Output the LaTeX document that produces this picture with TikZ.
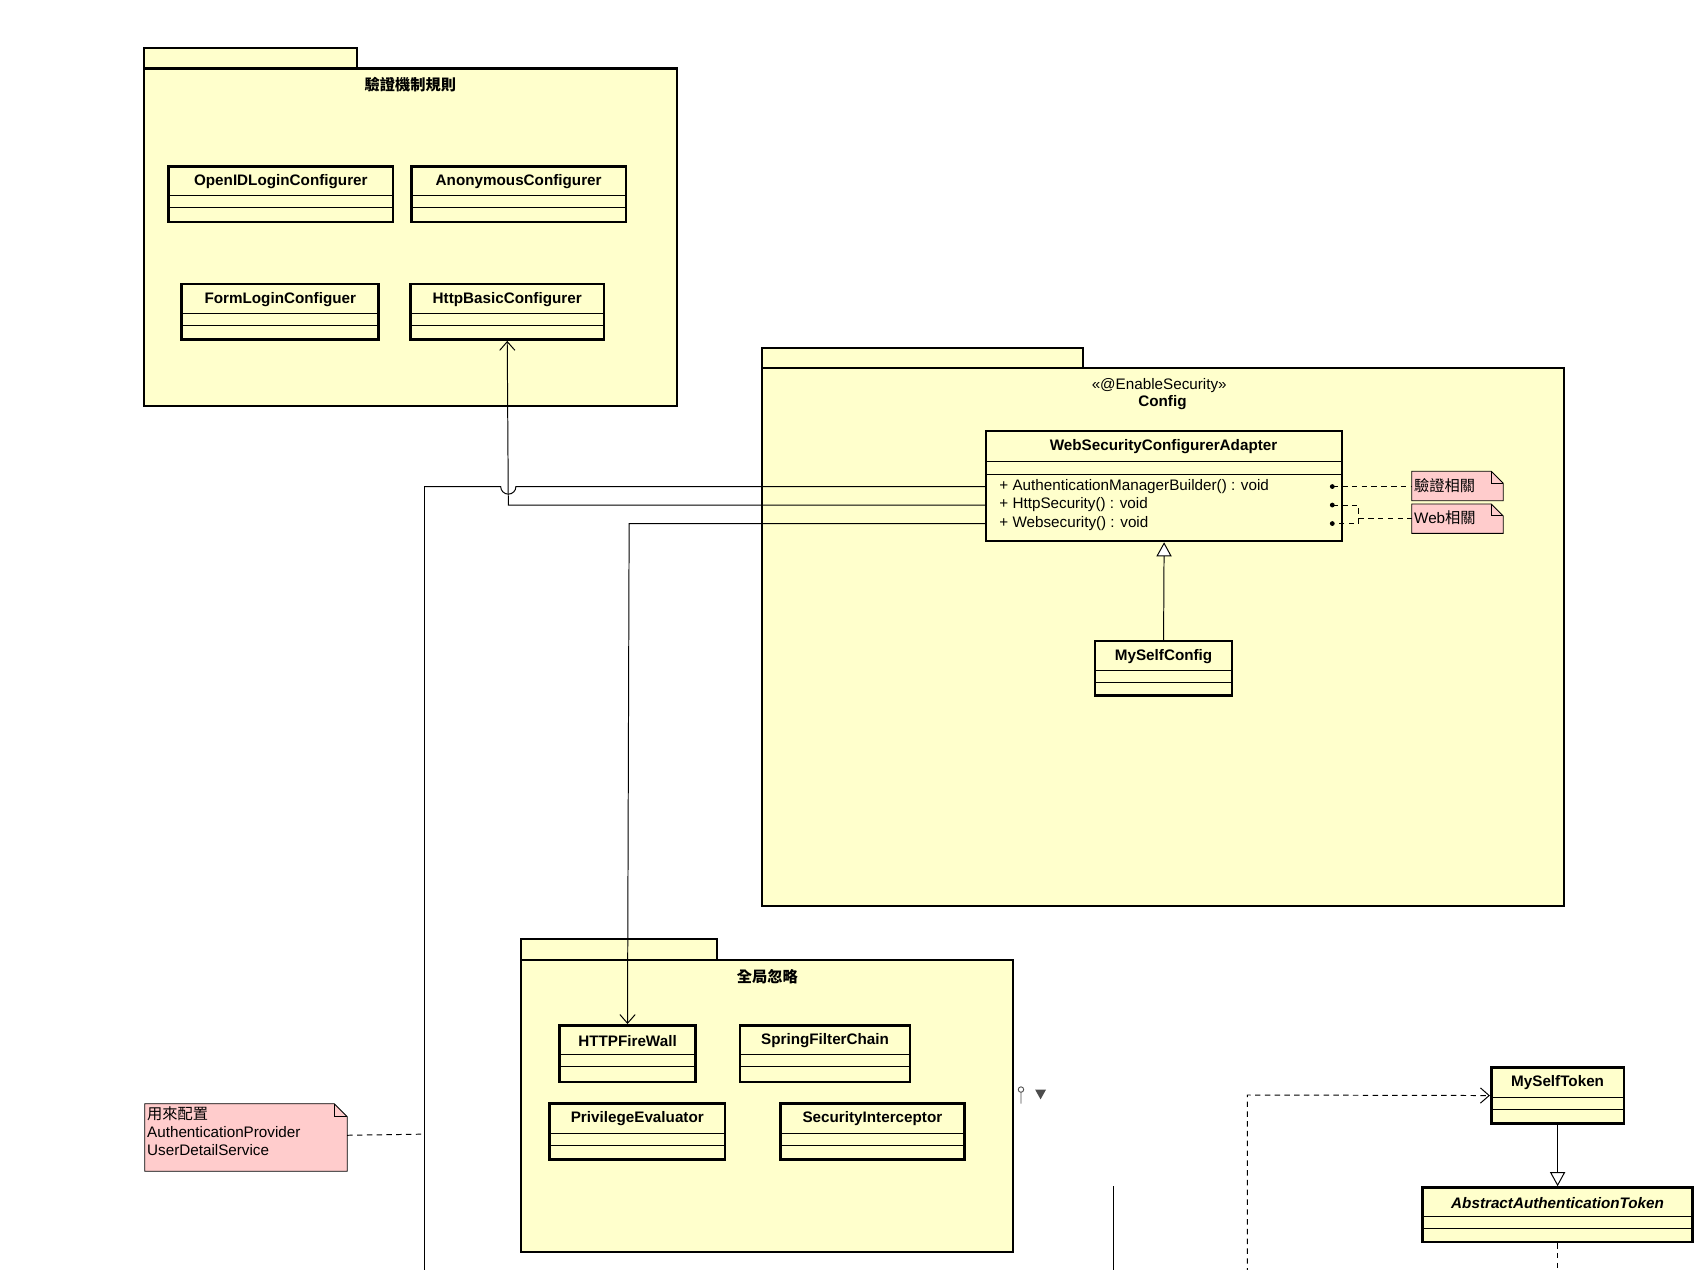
\documentclass[tikz,border=0pt]{standalone}
\usepackage{fontspec}
\setmainfont{Liberation Sans}
\newfontfamily\cjk{Noto Sans CJK TC}
\usetikzlibrary{arrows.meta}
\definecolor{pk}{HTML}{FFFFCC}
\definecolor{nt}{HTML}{FFCCCC}
\tikzset{
 pkg/.style={draw,fill=pk,line width=2pt},
 box/.style={draw,fill=pk,line width=2.4pt,inner sep=0pt},
 cname/.style={font=\fontsize{14}{16}\selectfont\bfseries},
 meth/.style={font=\fontsize{14}{16}\selectfont,anchor=west,inner sep=0pt},
 note/.style={draw,fill=nt,line width=0.8pt},
 conn/.style={line width=0.9pt},
 dep/.style={line width=0.9pt,dash pattern=on 5pt off 4pt},
 oarr/.style={-{Straight Barb[length=8pt,width=14pt]}},
 gen/.style={-{Triangle[open,length=13pt,width=14pt,fill=white]}},
}
\newcommand\cls[6]{%
 \node[box,minimum width={(#4-#2)*1pt},minimum height={(#5-#3)*1pt}] (#1) at ({(#2+#4)/2},{(#3+#5)/2}) {};
 \node[cname] at ({(#2+#4)/2},{#3+14}) {#6};
 \draw[line width=1pt] (#2,{#3+27}) -- (#4,{#3+27}) (#2,{#3+38}) -- (#4,{#3+38});}
\newcommand\pkgbox[7]{%
 \draw[pkg] (#1,#2) rectangle (#3,#4);
 \node[pkg,minimum width={(#6-#1)*1pt},minimum height={(#4-#2... )}] {};}
\begin{document}
\begin{tikzpicture}[x=1pt,y=-1pt]
\useasboundingbox (0,0) rectangle (1560,1166);
% package 1
\draw[pkg] (132,44) rectangle (328,63);
\draw[pkg] (132,63) rectangle (622,373);
\node[cname,font=\fontsize{14}{16}\selectfont\cjk\bfseries] (p1) at (377,78) {驗證機制規則};
\cls{oid}{155}{153}{361}{204}{OpenIDLoginConfigurer}
\cls{anon}{378}{153}{575}{204}{AnonymousConfigurer}
\cls{form}{167}{261}{348}{312}{FormLoginConfiguer}
\cls{basic}{377}{261}{555}{312}{HttpBasicConfigurer}
% package 2
\draw[pkg] (700,320) rectangle (995,338);
\draw[pkg] (700,338) rectangle (1437,832);
\node[font=\fontsize{14}{16}\selectfont] (st) at (1065,354) {<<@EnableSecurity>>};
\node[cname] (cfg) at (1068,370) {Config};
\node[box,minimum width=327pt,minimum height=101pt] (wsca) at (1069.5,446.5) {};
\node[cname] at (1069,410) {WebSecurityConfigurerAdapter};
\draw[line width=1pt] (906,424) -- (1233,424) (906,436) -- (1233,436);
\node[meth] at (918,447) {+ AuthenticationManagerBuilder() : void};
\node[meth] at (918,464) {+ HttpSecurity() : void};
\node[meth] at (918,481) {+ Websecurity() : void};
\foreach \y/\n in {447/d1,464/d2,481/d3} \fill (1224,\y) circle (2.2pt) coordinate (\n);
\draw[note] (1297,433) -- (1370,433) -- (1381,444) -- (1381,460) -- (1297,460) -- cycle;
\draw[line width=0.8pt] (1370,433) -- (1370,444) -- (1381,444);
\node[font=\fontsize{14}{16}\selectfont\cjk,anchor=west,inner sep=1pt] (n1) at (1298,446) {驗證相關};
\draw[note] (1297,463) -- (1370,463) -- (1381,474) -- (1381,490) -- (1297,490) -- cycle;
\draw[line width=0.8pt] (1370,463) -- (1370,474) -- (1381,474);
\node[font=\fontsize{14}{16}\selectfont,anchor=west,inner sep=1pt] (n2) at (1298,476) {Web{\cjk 相關}};
\draw[dep] (d1) -- (1297,447);
\draw[dep] (d2) -- (1248,464) -- (1248,481) -- (d3);
\draw[dep] (1248,476) -- (1297,476);
\cls{msc}{1006}{589}{1132}{639}{MySelfConfig}
\draw[conn,gen] (msc.north) -- (wsca.south);
% package 3
\draw[pkg] (479,863) rectangle (659,882);
\draw[pkg] (479,882) rectangle (931,1150);
\node[cname,font=\fontsize{14}{16}\selectfont\cjk\bfseries] (p3) at (705,897) {全局忽略};
\cls{fw}{514}{942}{639}{994}{HTTPFireWall}
\cls{sfc}{680}{942}{836}{994}{SpringFilterChain}
\cls{pe}{505}{1014}{666}{1065}{PrivilegeEvaluator}
\cls{si}{717}{1014}{886}{1065}{SecurityInterceptor}
% connectors from WSCA
\coordinate (e1) at (390,1170);
\draw[conn] (906,447) -- (474,447) arc (0:180:7) -- (390,447) -- (e1);
\draw[conn,oarr] (906,464) -- (467,464) -- (basic.south);
\draw[conn,oarr] (906,481) -- (578,481) -- (fw.north);
% note
\draw[note] (133,1014) -- (307,1014) -- (319,1026) -- (319,1076) -- (133,1076) -- cycle;
\draw[line width=0.8pt] (307,1014) -- (307,1026) -- (319,1026);
\node[font=\fontsize{14}{16.5}\selectfont,anchor=north west,inner sep=1pt,align=left] (n3) at (134,1016) {{\cjk 用來配置}\\AuthenticationProvider\\UserDetailService};
\draw[dep] (319,1043) -- (387,1042);
% small icons
\draw[line width=0.8pt,gray!60!black] (938,1001) circle (2.5pt) (938,1003.5) -- (938,1014);
\fill[gray!60!black] (951,1001) -- (961,1001) -- (956,1010) -- cycle;
% tokens
\coordinate (lt) at (1023,1090); \coordinate (lb) at (1023,1170);
\draw[conn] (lt) -- (lb);
\cls{mst}{1370}{981}{1492}{1032}{MySelfToken}
\cls{aat}{1307}{1091}{1555}{1141}{\itshape AbstractAuthenticationToken}
\coordinate (db) at (1146,1170);
\draw[dep,oarr] (db) -- (1146,1006) -- (mst.west);
\draw[conn,gen] (mst.south) -- (aat.north);
\coordinate (ab) at (1431,1170);
\draw[dep] (aat.south) -- (ab);
\end{tikzpicture}
\end{document}
